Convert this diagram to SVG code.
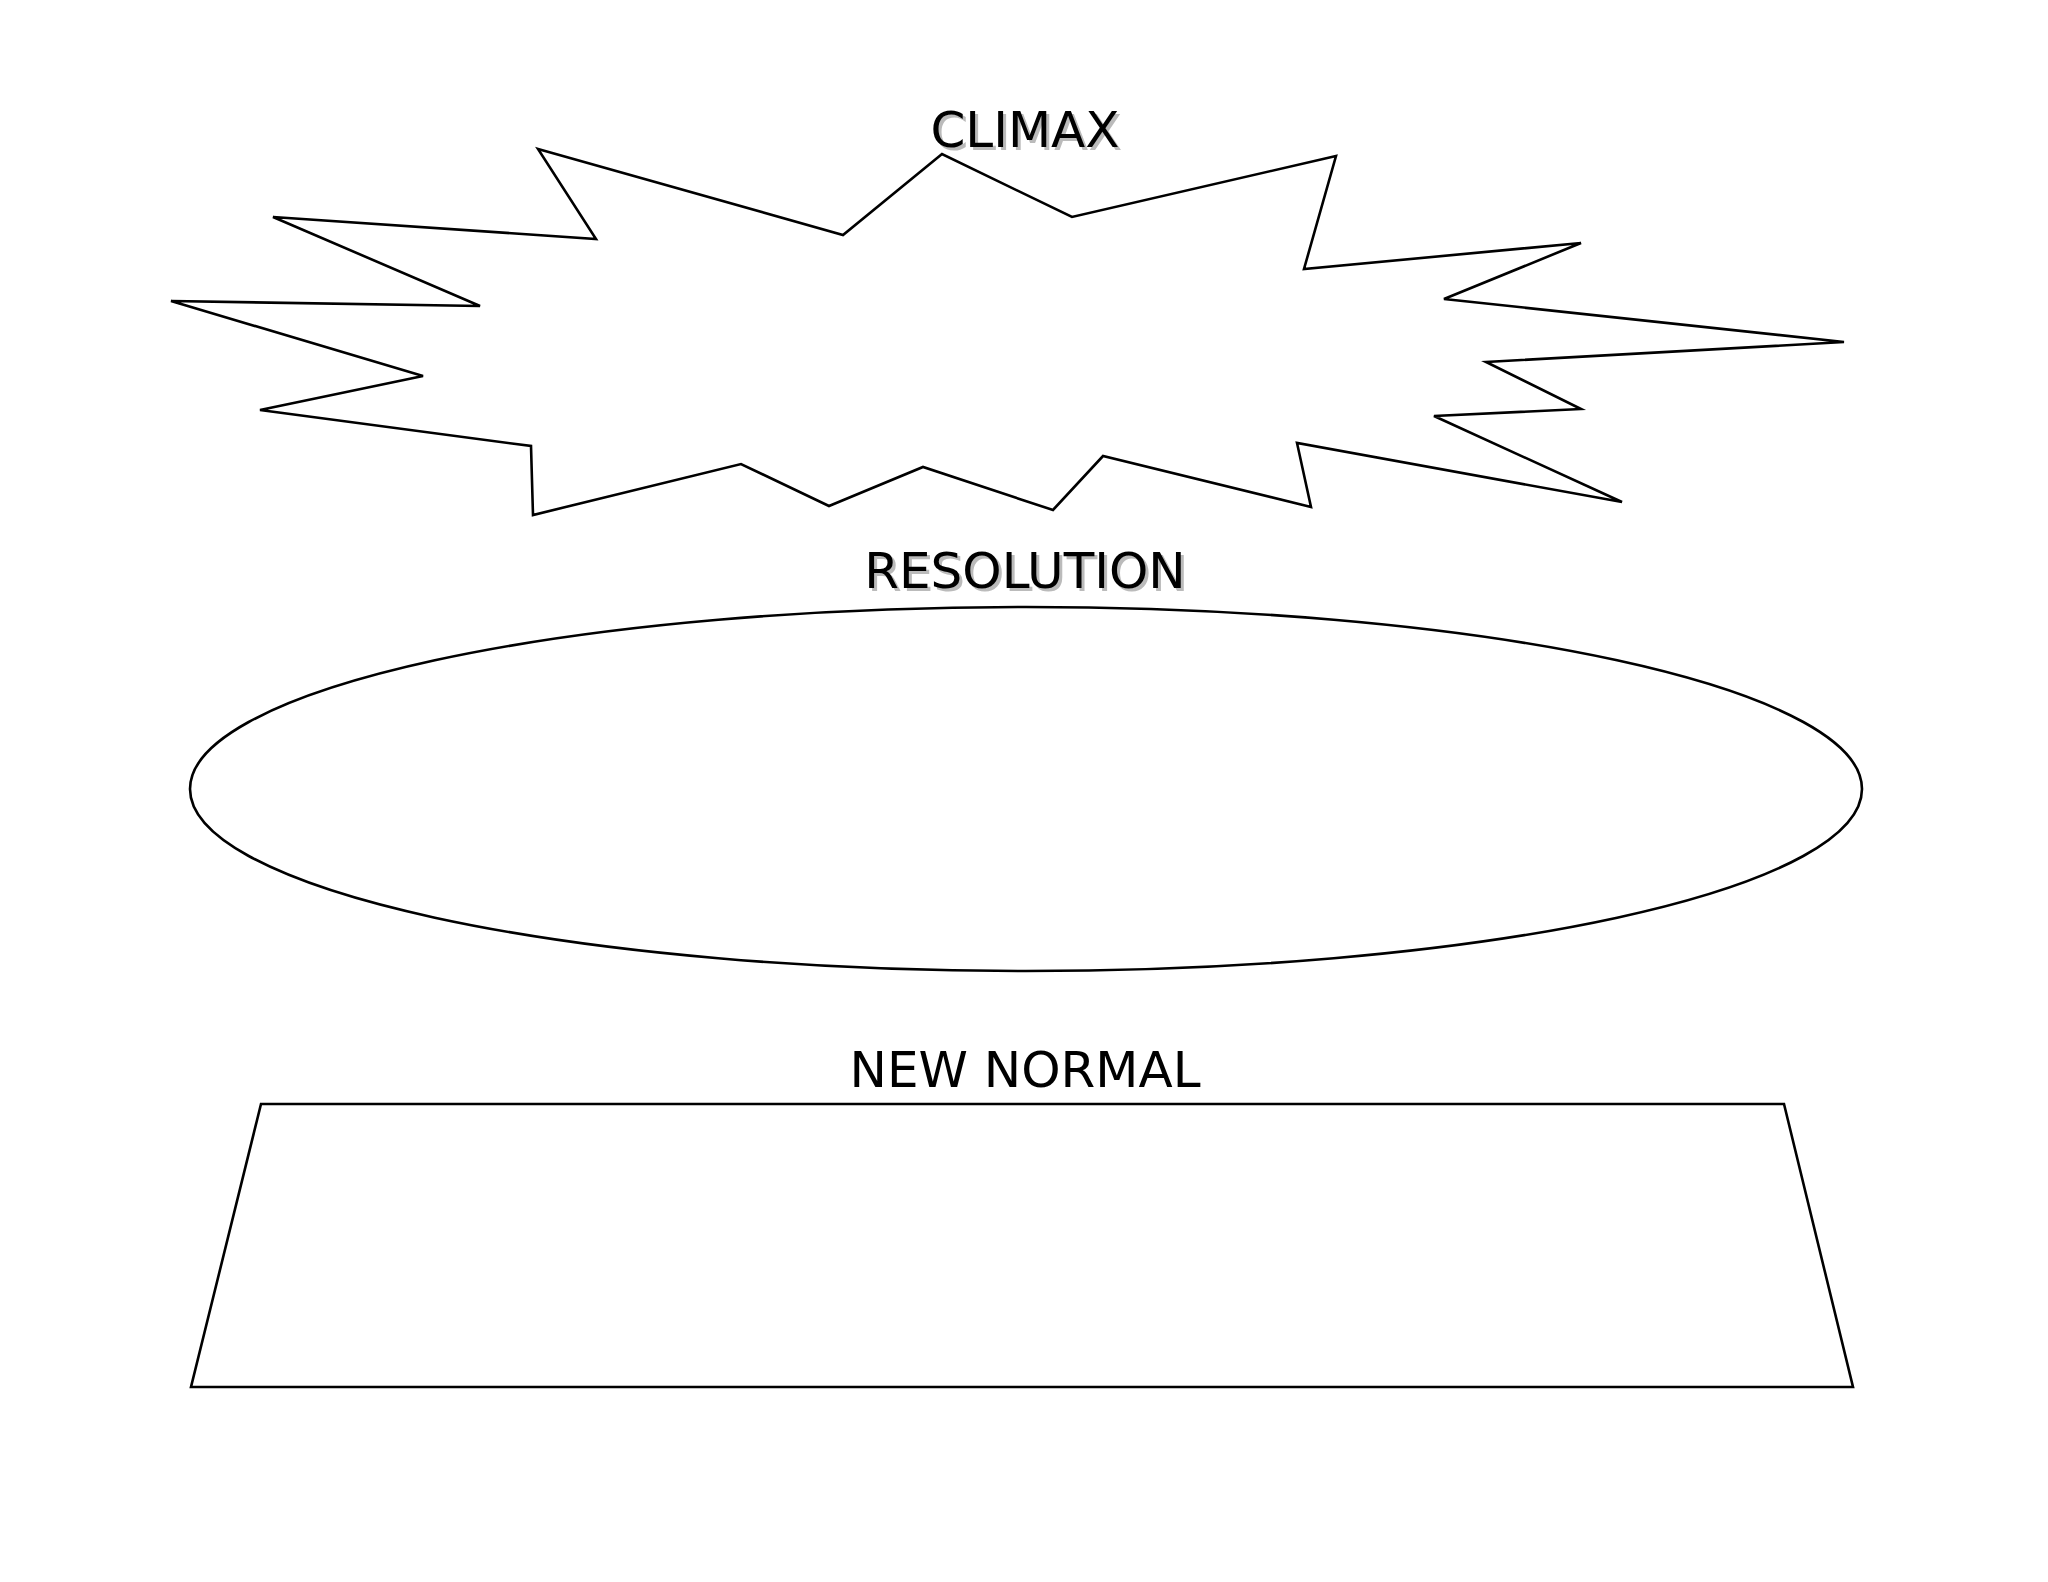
<svg xmlns="http://www.w3.org/2000/svg" width="2048" height="1582" viewBox="0 0 2048 1582">
<style>
.s{fill:#fff;stroke:#000;stroke-width:2.6;stroke-linejoin:miter}
.t{font-family:"DejaVu Sans",sans-serif;font-size:50px;text-anchor:middle;fill:#000}
.sh{font-family:"DejaVu Sans",sans-serif;font-size:50px;text-anchor:middle;fill:#bbb}
</style>
<rect width="2048" height="1582" fill="#fff"/>
<g id="climax">
<polygon class="s" points="538,149 843,235 942,154 1072,217 1336,156 1304,269 1581,243 1444,299 1844,342 1486,362 1581,409 1434,416 1622,502 1297,443 1311,507 1103,456 1053,510 923,467 829,506 741,464 533,515 531,446 260,410 423,376 171,301 480,306 273,217 596,239"/>
<text class="sh" x="1028" y="150">CLIMAX</text>
<text class="t" x="1025" y="147">CLIMAX</text>
</g>
<g id="resolution">
<ellipse class="s" cx="1026" cy="789" rx="836" ry="182"/>
<text class="sh" x="1028" y="591">RESOLUTION</text>
<text class="t" x="1025" y="588">RESOLUTION</text>
</g>
<g id="newnormal">
<polygon class="s" points="261,1104 1784,1104 1853,1387 191,1387"/>
<text class="t" x="1025" y="1087">NEW NORMAL</text>
</g>
<g id="connectors"/>
</svg>
